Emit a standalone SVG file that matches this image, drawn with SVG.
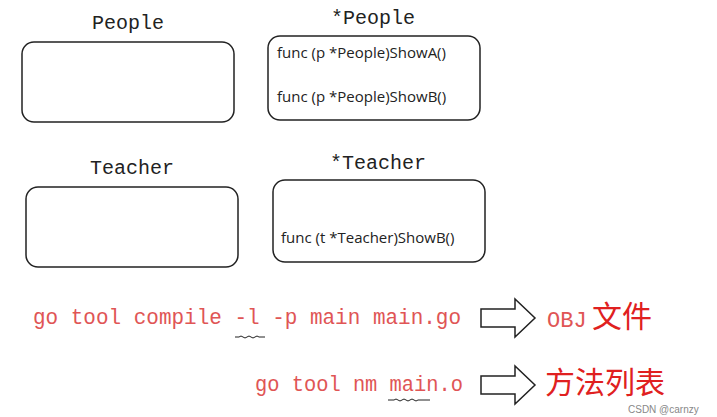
<svg xmlns="http://www.w3.org/2000/svg" width="717" height="417" viewBox="0 0 717 417">
<style>
.box{fill:#fff;stroke:#222;stroke-width:1.5}
.t{font-family:"Liberation Mono",monospace;font-size:20px;fill:#222}
.f{font-family:"Open Sans",sans-serif;font-size:15px;fill:#222}
.r{font-family:"Liberation Mono",monospace;font-size:22px;fill:#e05555}
.cn{font-family:"Noto Sans CJK SC",sans-serif;font-size:30px;fill:#e02020}
.arr{fill:#fff;stroke:#222;stroke-width:1.5}
.sq{fill:none;stroke:#222;stroke-width:1}
</style>
<rect width="717" height="417" fill="#fff"/>
<g id="people"><text class="t" x="128" y="29" text-anchor="middle">People</text><rect class="box" x="22" y="42" width="212" height="80" rx="12"/></g>
<g id="ppeople"><text class="t" x="373" y="24" text-anchor="middle">*People</text><rect class="box" x="268" y="36" width="212" height="84" rx="12"/>
<text class="f" x="277" y="58">func (p *People)ShowA()</text><text class="f" x="277" y="102">func (p *People)ShowB()</text></g>
<g id="teacher"><text class="t" x="132" y="174" text-anchor="middle">Teacher</text><rect class="box" x="26" y="187" width="212" height="80" rx="12"/></g>
<g id="pteacher"><text class="t" x="378" y="169" text-anchor="middle">*Teacher</text><rect class="box" x="273" y="180" width="212" height="82" rx="12"/>
<text class="f" x="281" y="243">func (t *Teacher)ShowB()</text></g>
<g id="cmd1"><text class="r" x="33" y="324" textLength="428" lengthAdjust="spacingAndGlyphs">go tool compile -l -p main main.go</text>
<path class="sq" d="M235 337 h4 q2 -2 4 0 q2 2 4 0 q2 -2 4 0 q2 2 4 0 q2 -2 4 0 h6"/>
<text x="547" y="327" font-family="Liberation Mono,monospace" font-size="22" fill="#e05555">OBJ</text><text class="cn" x="592" y="327">文件</text></g>
<g id="cmd2"><text class="r" x="255" y="391" textLength="208" lengthAdjust="spacingAndGlyphs">go tool nm main.o</text>
<path class="sq" d="M388 400 h6 q2 -2 4 0 q2 2 4 0 q2 -2 4 0 q2 2 4 0 q2 -2 4 0 q2 2 4 0 h12"/>
<text class="cn" x="545" y="393">方法列表</text></g>
<g id="connectors">
<path class="arr" d="M481 309 h34 v-10 l20 19 l-20 19 v-10 h-34 z"/>
<path class="arr" d="M481 376 h34 v-10 l20 19 l-20 19 v-10 h-34 z"/>
</g>
<text x="628" y="413" font-family="Liberation Sans,sans-serif" font-size="10" fill="#888">CSDN @carnzy</text>
</svg>
